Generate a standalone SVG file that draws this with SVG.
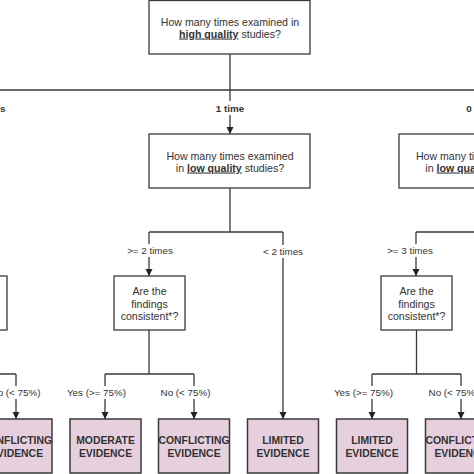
<svg xmlns="http://www.w3.org/2000/svg" width="474" height="474" viewBox="0 0 474 474">
<defs>
<style>
.box{fill:#ffffff;stroke:#3a3a3a;stroke-width:1.3}
.res{fill:#e6d0de;stroke:#3a3a3a;stroke-width:1.5}
.t{font-family:"Liberation Sans",Arial,sans-serif;font-size:10.6px;fill:#333;text-anchor:middle}
.b{font-weight:bold}
.u{font-weight:bold;text-decoration:underline}
.rt{font-family:"Liberation Sans",Arial,sans-serif;font-size:10.4px;font-weight:bold;fill:#333;text-anchor:middle}
.lbl{font-family:"Liberation Sans",Arial,sans-serif;font-size:9.8px;fill:#333;text-anchor:middle}
.ln{fill:none;stroke:#3a3a3a;stroke-width:1.3}
.bg{fill:#ffffff}
</style>
<marker id="arr" markerUnits="userSpaceOnUse" markerWidth="8" markerHeight="8" refX="7" refY="4" orient="auto">
<path d="M0,0.5 L7,4 L0,7.5 Z" fill="#222"/>
</marker>
</defs>

<g id="connectors">
<path class="ln" d="M230,54 V90 M0,90 H474"/>
<path class="ln" d="M230,90 V134" marker-end="url(#arr)"/>
<path class="ln" d="M230,188 V232 M149,232 H283"/>
<path class="ln" d="M149,232 V276" marker-end="url(#arr)"/>
<path class="ln" d="M283,232 V419" marker-end="url(#arr)"/>
<path class="ln" d="M149,330 V374 M105,374 H194"/>
<path class="ln" d="M105,374 V419" marker-end="url(#arr)"/>
<path class="ln" d="M194,374 V419" marker-end="url(#arr)"/>
<path class="ln" d="M416,232 H474"/>
<path class="ln" d="M416,232 V276" marker-end="url(#arr)"/>
<path class="ln" d="M416.5,330 V374 M372,374 H461"/>
<path class="ln" d="M372,374 V419" marker-end="url(#arr)"/>
<path class="ln" d="M461,374 V419" marker-end="url(#arr)"/>
<path class="ln" d="M-28,330 V374 H16"/>
<path class="ln" d="M16,374 V419" marker-end="url(#arr)"/>

<rect class="bg" x="215" y="101" width="30" height="14"/>
<text class="lbl b" x="230" y="112">1 time</text>
<text class="lbl b" x="469" y="112">0</text>
<text class="lbl b" x="0" y="112" style="text-anchor:start">s</text>

<rect class="bg" x="127" y="244" width="46" height="13"/>
<text class="lbl" x="150" y="254">&gt;= 2 times</text>
<rect class="bg" x="263" y="245" width="40" height="13"/>
<text class="lbl" x="283" y="255">&lt; 2 times</text>
<rect class="bg" x="387" y="244" width="46" height="13"/>
<text class="lbl" x="410" y="254">&gt;= 3 times</text>

<rect class="bg" x="67" y="386" width="59" height="13"/>
<text class="lbl" x="96.5" y="396">Yes (&gt;= 75%)</text>
<rect class="bg" x="160" y="386" width="51" height="13"/>
<text class="lbl" x="185.5" y="396">No (&lt; 75%)</text>
<rect class="bg" x="334" y="386" width="59" height="13"/>
<text class="lbl" x="363.5" y="396">Yes (&gt;= 75%)</text>
<rect class="bg" x="428" y="386" width="51" height="13"/>
<text class="lbl" x="453.5" y="396">No (&lt; 75%)</text>
<rect class="bg" x="-10" y="386" width="51" height="13"/>
<text class="lbl" x="15.5" y="396">No (&lt; 75%)</text>
</g>

<g id="q-high">
<rect class="box" x="149" y="0.5" width="161" height="53.5"/>
<text class="t" x="230" y="25.5">How many times examined in</text>
<text class="t" x="230" y="37.5"><tspan class="u">high quality</tspan> studies?</text>
</g>

<g id="q-low-mid">
<rect class="box" x="149" y="134" width="161" height="54"/>
<text class="t" x="230" y="159.5">How many times examined</text>
<text class="t" x="230" y="171.5">in <tspan class="u">low quality</tspan> studies?</text>
</g>

<g id="q-low-right">
<rect class="box" x="399" y="134" width="161" height="54"/>
<text class="t" x="479.5" y="159.5">How many times examined</text>
<text class="t" x="479.5" y="171.5">in <tspan class="u">low quality</tspan> studies?</text>
</g>

<g id="consistent-left">
<rect class="box" x="-64" y="276" width="71" height="54"/>
</g>

<g id="consistent-mid">
<rect class="box" x="114" y="276" width="71" height="54"/>
<text class="t" x="149.5" y="295">Are the</text>
<text class="t" x="149.5" y="307.5">findings</text>
<text class="t" x="149.5" y="320">consistent*?</text>
</g>

<g id="consistent-right">
<rect class="box" x="381" y="276" width="71" height="54"/>
<text class="t" x="416.5" y="295">Are the</text>
<text class="t" x="416.5" y="307.5">findings</text>
<text class="t" x="416.5" y="320">consistent*?</text>
</g>

<g id="res-conflicting-left">
<rect class="res" x="-19" y="419" width="71" height="54"/>
<text class="rt" x="16.5" y="444">CONFLICTING</text>
<text class="rt" x="16.5" y="456.5">EVIDENCE</text>
</g>
<g id="res-moderate">
<rect class="res" x="70" y="419" width="71" height="54"/>
<text class="rt" x="105.5" y="444">MODERATE</text>
<text class="rt" x="105.5" y="456.5">EVIDENCE</text>
</g>
<g id="res-conflicting-mid">
<rect class="res" x="158.5" y="419" width="71" height="54"/>
<text class="rt" x="194" y="444">CONFLICTING</text>
<text class="rt" x="194" y="456.5">EVIDENCE</text>
</g>
<g id="res-limited-mid">
<rect class="res" x="247.5" y="419" width="71" height="54"/>
<text class="rt" x="283" y="444">LIMITED</text>
<text class="rt" x="283" y="456.5">EVIDENCE</text>
</g>
<g id="res-limited-right">
<rect class="res" x="336.5" y="419" width="71" height="54"/>
<text class="rt" x="372" y="444">LIMITED</text>
<text class="rt" x="372" y="456.5">EVIDENCE</text>
</g>
<g id="res-conflicting-right">
<rect class="res" x="425.5" y="419" width="71" height="54"/>
<text class="rt" x="461" y="444">CONFLICTING</text>
<text class="rt" x="461" y="456.5">EVIDENCE</text>
</g>
</svg>
